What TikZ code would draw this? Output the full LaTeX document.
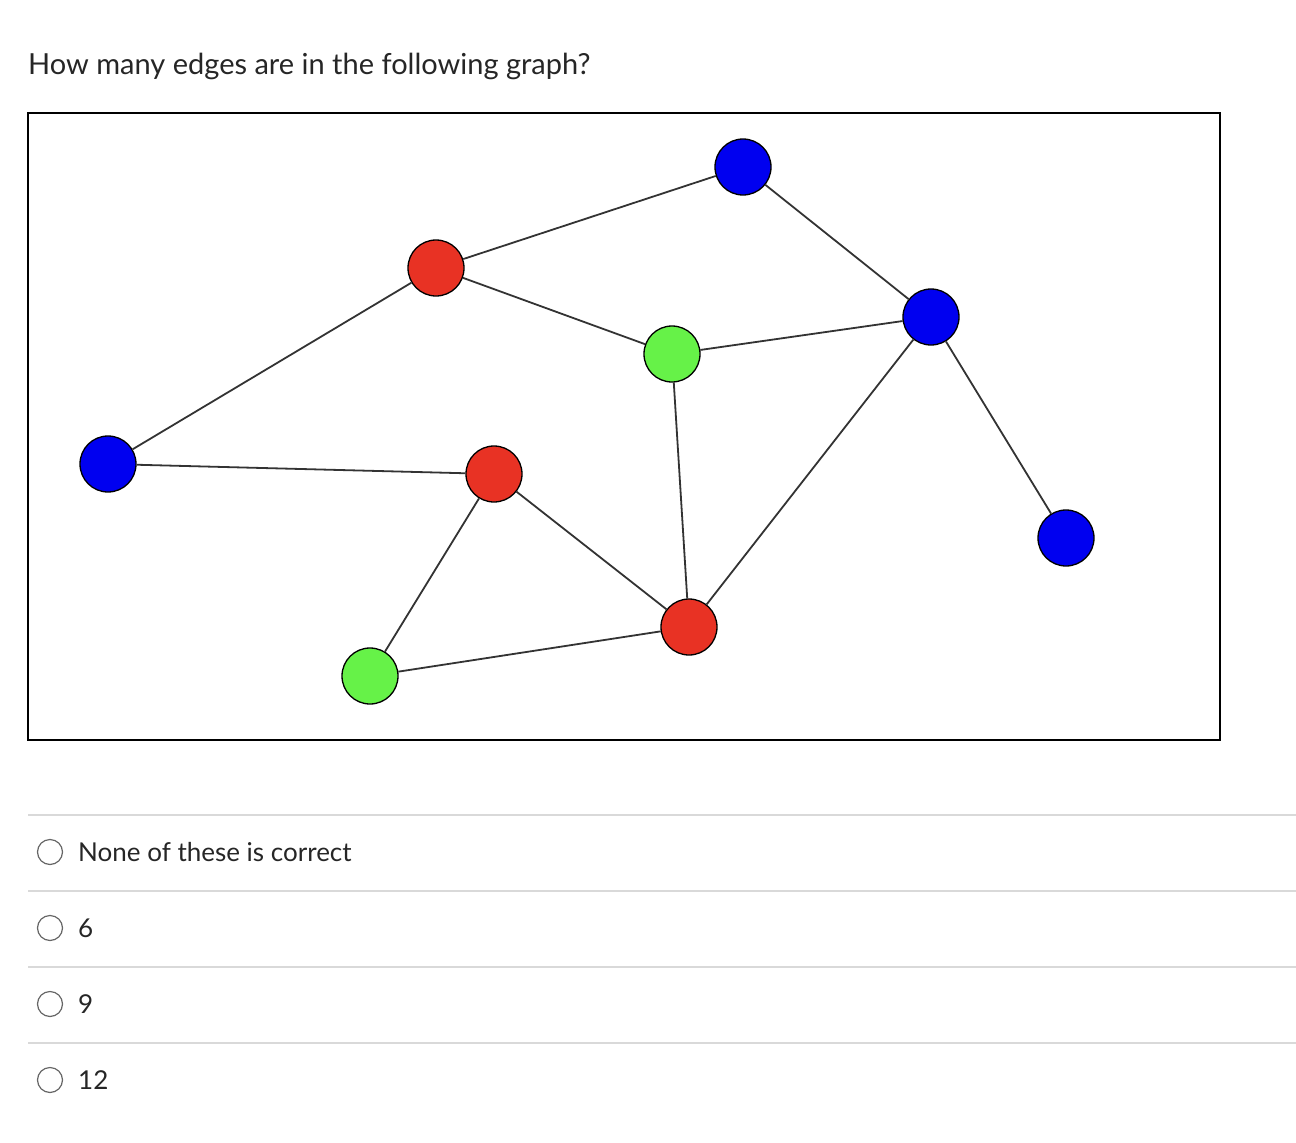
\documentclass[tikz,border=0pt]{standalone}
\usepackage{fontspec}
\setmainfont{Lato}
\tikzset{
  vert/.style={circle,draw=black,line width=1.3pt,minimum size=56pt,inner sep=0pt},
  edge/.style={draw=black!80,line width=1.8pt},
  sep/.style={draw=black!15,line width=1.2pt},
  radio/.style={circle,draw=black!60,line width=1.2pt,minimum size=25pt,inner sep=0pt},
  opt/.style={anchor=west,font=\fontsize{26}{30}\selectfont,text=black!85,inner sep=0pt}
}
\definecolor{gblue}{RGB}{0,0,240}
\definecolor{gred}{RGB}{232,50,36}
\definecolor{ggreen}{RGB}{102,242,72}
\begin{document}
\begin{tikzpicture}[x=1pt,y=-1pt]
\useasboundingbox (0,0) rectangle (1296,1143);
\node[anchor=west,inner sep=0pt,font=\fontsize{29}{34}\selectfont,text=black!85] (title) at (28,66) {How many edges are in the following graph?};
\draw[line width=2pt] (28,113) rectangle (1220,740);
\node[vert,fill=gblue] (bt) at (743,167) {};
\node[vert,fill=gred] (r1) at (436,268) {};
\node[vert,fill=ggreen] (g1) at (672,354) {};
\node[vert,fill=gblue] (br) at (931,317) {};
\node[vert,fill=gblue] (bl) at (108,464) {};
\node[vert,fill=gred] (r2) at (494,474) {};
\node[vert,fill=gblue] (bf) at (1066,538) {};
\node[vert,fill=gred] (r3) at (689,627) {};
\node[vert,fill=ggreen] (g2) at (370,676) {};
\begin{scope}[on background layer/.style={}]
\end{scope}
\path[edge] (r1)--(bt) (bt)--(br) (r1)--(g1) (g1)--(br) (r1)--(bl) (bl)--(r2)
 (r2)--(g2) (r2)--(r3) (g1)--(r3) (br)--(r3) (br)--(bf) (g2)--(r3);
\draw[sep] (28,815)--(1296,815) (28,891)--(1296,891) (28,967)--(1296,967) (28,1043)--(1296,1043);
\node[radio] (c1) at (50,852) {};
\node[radio] (c2) at (50,928) {};
\node[radio] (c3) at (50,1004) {};
\node[radio] (c4) at (50,1080) {};
\node[opt] (o1) at (78,852) {None of these is correct};
\node[opt] (o2) at (78,928) {6};
\node[opt] (o3) at (78,1004) {9};
\node[opt] (o4) at (78,1080) {12};
\end{tikzpicture}
\end{document}
